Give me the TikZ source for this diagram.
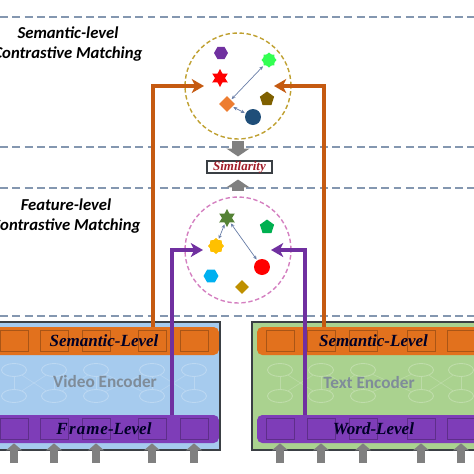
\documentclass[tikz,border=0pt]{standalone}
\usepackage{fontspec}
\usepackage{tikz}
\usetikzlibrary{calc,arrows.meta,shapes.geometric}
\newfontfamily\calibfont{Carlito}
\newfontfamily\timesfont{Liberation Serif}
\definecolor{sep}{HTML}{8497B0}
\definecolor{semor}{HTML}{C55A11}
\definecolor{baror}{HTML}{E2711D}
\definecolor{frpur}{HTML}{7030A0}
\definecolor{barpur}{HTML}{7E3DB8}
\definecolor{vidblue}{HTML}{A6CBEE}
\definecolor{txtgreen}{HTML}{AAD28F}
\definecolor{boxline}{HTML}{3A3F44}
\definecolor{gblock}{HTML}{808080}
\definecolor{simred}{HTML}{A01C28}
\definecolor{enclab}{HTML}{7F8C99}
\definecolor{olived}{HTML}{BFA030}
\definecolor{pinkd}{HTML}{D47FC0}
\definecolor{linkc}{HTML}{6A7FA8}
\tikzset{
  sepline/.style={draw=sep, line width=1pt, dash pattern=on 4.5pt off 2.5pt},
  title/.style={font=\calibfont\bfseries\itshape\fontsize{9.5}{11.5}\selectfont, align=center},
  embsp/.style={circle, line width=0.8pt, dash pattern=on 2.5pt off 1.5pt, minimum size=2.12cm, inner sep=0pt},
  pt/.style={inner sep=0pt, minimum size=0.3cm},
  hexa/.style={pt, regular polygon, regular polygon sides=6},
  penta/.style={pt, regular polygon, regular polygon sides=5},
  stara/.style={pt, star, star points=6, star point ratio=1.8, minimum size=0.36cm},
  gear/.style={pt, star, star points=8, star point ratio=1.25},
  dia/.style={pt, diamond, minimum size=0.32cm},
  dot/.style={pt, circle},
  link/.style={draw=linkc, line width=0.4pt, {Stealth[length=2.2pt,width=2pt]}-{Stealth[length=2.2pt,width=2pt]}, shorten <=0.5pt, shorten >=0.5pt},
  encbox/.style={draw=boxline, line width=1.2pt, minimum width=4.6cm, minimum height=2.56cm, inner sep=0pt},
  bar/.style={rounded corners=3pt, minimum width=4.6cm, minimum height=0.56cm, inner sep=0pt},
  cell/.style={draw=#1, line width=0.4pt, minimum width=0.56cm, minimum height=0.42cm, inner sep=0pt},
  bartxt/.style={font=\timesfont\bfseries\itshape\fontsize{9.7}{11}\selectfont, text=black!85!blue},
  enctxt/.style={font=\calibfont\bfseries\fontsize{9.8}{11}\selectfont, text=enclab},
  netell/.style={ellipse, draw=white, opacity=0.25, line width=0.5pt, minimum width=0.5cm, minimum height=0.26cm, inner sep=0pt},
  semarr/.style={draw=semor, line width=2.2pt, -{Stealth[length=7pt,width=8pt,inset=2pt]}},
  frarr/.style={draw=frpur, line width=2.2pt, -{Stealth[length=7pt,width=8pt,inset=2pt]}},
  gbig/.style={draw=gblock, line width=6.5pt, -{Triangle[length=4.5pt,width=13pt]}},
  gsmall/.style={draw=gblock, line width=4.5pt, -{Triangle[length=4pt,width=9pt]}},
  simbox/.style={draw=boxline, line width=0.6pt, fill=white, minimum width=1.3cm, minimum height=0.24cm, inner sep=0pt,
    font=\timesfont\bfseries\itshape\fontsize{7.4}{8}\selectfont, text=simred},
}
\begin{document}
\begin{tikzpicture}[x=0.02cm, y=-0.02cm]
  \useasboundingbox (0,0) rectangle (474,474);
  % separators
  \foreach \y in {17,147,188,316}
    \draw[sepline] (0,\y) -- (474,\y);
  \node[title] (semtitle) at (68,44) {Semantic-level\\Contrastive Matching};
  \node[title] (feattitle) at (66,216) {Feature-level\\Contrastive Matching};

  % encoders
  \node[encbox, fill=vidblue] (venc) at (105,386) {};
  \node[encbox, fill=txtgreen, minimum width=4.66cm] (tenc) at (368.5,386) {};
  \foreach \x in {14,54,96,152,194,280,321,363,421,461} {
    \node[netell] (nt\x) at (\x,370) {};
    \node[netell] (nb\x) at (\x,396) {};
    \draw[white, opacity=0.22, line width=0.4pt] (nt\x) -- (nb\x);
  }
  \foreach \a/\b in {14/54,54/96,96/152,152/194,280/321,321/363,363/421,421/461} {
    \draw[white, opacity=0.18, line width=0.4pt] (nt\a) -- (nb\b);
    \draw[white, opacity=0.18, line width=0.4pt] (nb\a) -- (nt\b);
  }
  \node[enctxt] (vlab) at (105,382) {Video Encoder};
  \node[enctxt] (tlab) at (369,383) {Text Encoder};

  % level bars
  \node[bar, fill=baror] (vsem) at (104,341) {};
  \node[bar, fill=barpur] (vfrm) at (104,429) {};
  \node[bar, fill=baror, minimum width=4.66cm] (tsem) at (373.5,341) {};
  \node[bar, fill=barpur, minimum width=4.66cm] (twrd) at (373.5,429) {};
  \foreach \x in {14,54,96,152,194,280,321,363,421,461} {
    \node[cell=baror!75!black] at (\x,341) {};
    \node[cell=barpur!75!black] at (\x,429) {};
  }
  \node[bartxt] at (vsem) {Semantic-Level};
  \node[bartxt] at (vfrm) {F\kern0.7pt r\kern0.7pt a\kern0.5pt m\kern0.5pt e-Level};
  \node[bartxt] at (tsem) {Semantic-Level};
  \node[bartxt] at (twrd) {Word-Level};

  % embedding spaces
  \node[embsp, draw=olived] (semsp) at (238,86) {};
  \node[embsp, draw=pinkd] (featsp) at (238,250) {};

  \draw[semarr, shorten >=0.68cm] ($(vsem.north)+(49,0)$) |- (semsp.center);
  \draw[semarr, shorten >=0.72cm] ($(tsem.north)+(-49.5,0)$) |- (semsp.center);
  \draw[frarr, shorten >=0.7cm] ($(vfrm.north)+(68,0)$) |- (featsp.center);
  \draw[frarr, shorten >=0.66cm] ($(twrd.north)+(-68.5,0)$) |- (featsp.center);

  \node[hexa, fill=frpur, minimum size=0.28cm] (s1) at (221,53) {};
  \node[stara, fill=red] (s2) at (220,78) {};
  \node[gear, fill=green!85!cyan!80] (s3) at (269,60) {};
  \node[dia, fill={rgb,255:red,237;green,125;blue,49}] (s4) at (227,104) {};
  \node[penta, fill={rgb,255:red,127;green,96;blue,0}] (s5) at (267,99) {};
  \node[dot, fill={rgb,255:red,31;green,78;blue,121}, minimum size=0.32cm] (s6) at (253,117) {};
  \draw[link] (s4) -- (s3);
  \draw[link] (s4) -- (s6);

  \node[stara, fill={rgb,255:red,84;green,130;blue,53}] (f1) at (227,218) {};
  \node[penta, fill={rgb,255:red,0;green,176;blue,80}] (f2) at (267,227) {};
  \node[gear, fill={rgb,255:red,255;green,192;blue,0}, minimum size=0.32cm] (f3) at (216,246) {};
  \node[dot, fill=red, minimum size=0.32cm] (f4) at (262,267) {};
  \node[hexa, fill={rgb,255:red,0;green,176;blue,240}] (f5) at (211,276) {};
  \node[dia, fill={rgb,255:red,191;green,144;blue,0}, minimum size=0.28cm] (f6) at (242,287) {};
  \draw[link] (f1) -- (f3);
  \draw[link] (f1) -- (f4);

  % similarity
  \node[simbox] (sim) at (239.5,167) {Similarity};
  \draw[gbig, shorten <=1pt, shorten >=2.3pt] (semsp.south) -- (semsp.south |- sim.north);
  \draw[gbig, shorten <=3pt, shorten >=3.4pt] (featsp.north) -- (featsp.north |- sim.south);

  % inputs
  \foreach \x in {14,54,96,152,194,280,321,363,421,461} {
    \coordinate (in\x) at (\x,463);
    \draw[gsmall] (in\x) -- (in\x |- vfrm.south);
  }
\end{tikzpicture}
\end{document}
